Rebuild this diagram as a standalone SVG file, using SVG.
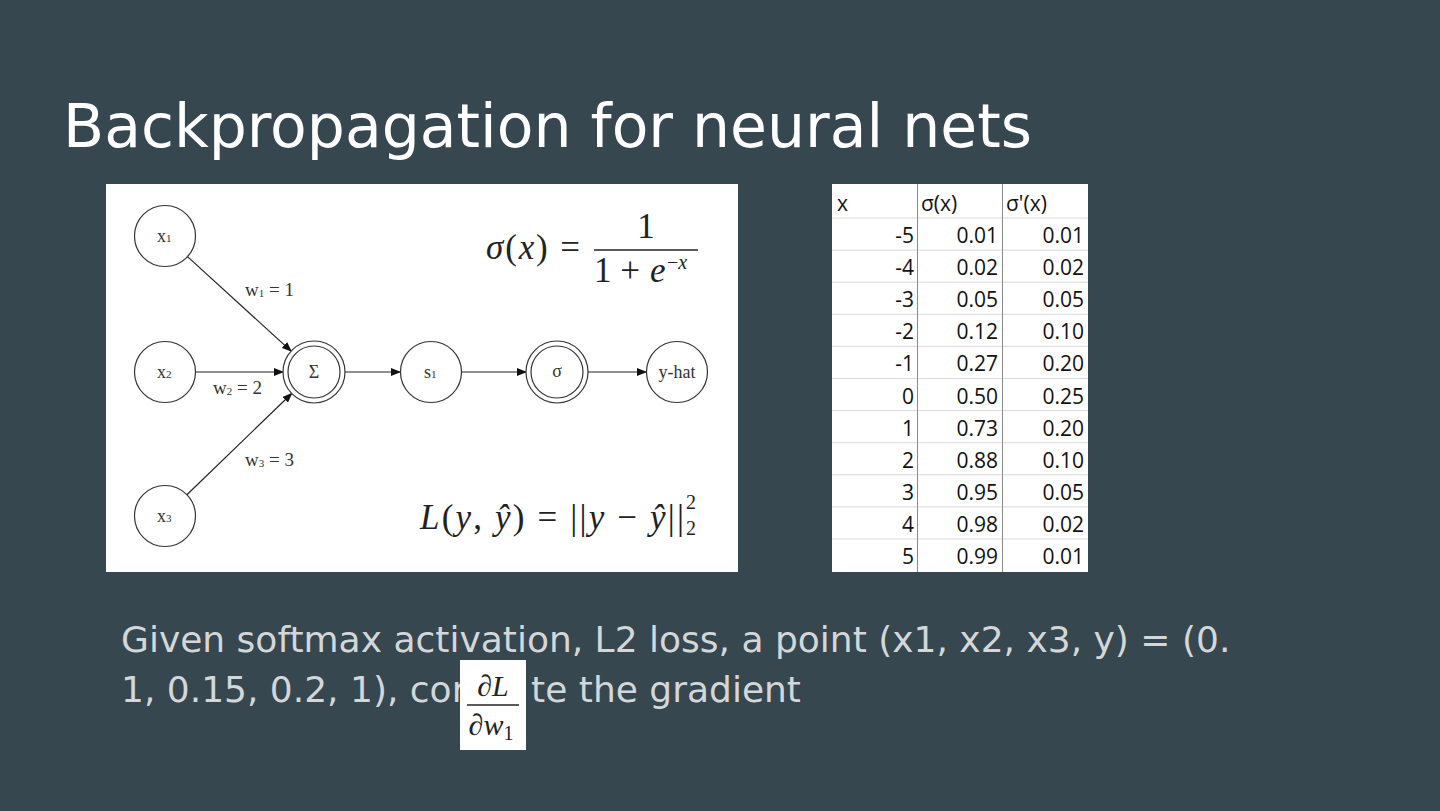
<svg xmlns="http://www.w3.org/2000/svg" width="1440" height="811" viewBox="0 0 1440 811">
<style>
.title{font-family:"DejaVu Sans",sans-serif;font-size:60px;fill:#ffffff}
.body{font-family:"DejaVu Sans",sans-serif;font-size:36px;fill:#d3d7d9}
.lbl{font-family:"Liberation Serif",serif;font-size:19px;fill:#333}
.nl{font-size:18px}
.big{font-size:18px}
.sub{font-size:11px}
.node{fill:#fff;stroke:#333;stroke-width:1.2}
.edge{stroke:#222;stroke-width:1.2;fill:none;marker-end:url(#arr)}
.math{font-family:"Liberation Serif",serif;font-size:35px;fill:#222}
.sm{font-size:20px}
.der{font-size:30px}
.it{font-style:italic}
.cell{font-family:"Open Sans","Liberation Sans",sans-serif;font-size:21px;fill:#111}
.num{text-anchor:end}
.hl{stroke:#dadada;stroke-width:1}
.vl{stroke:#8a8a8a;stroke-width:1}
</style>
<defs>
<marker id="arr" markerWidth="10" markerHeight="8" refX="9" refY="4" orient="auto" markerUnits="userSpaceOnUse">
<path d="M0,0 L10,4 L0,8 Z" fill="#111"/>
</marker>
</defs>
<rect width="1440" height="811" fill="#37474f"/>
<text class="title" x="63" y="147">Backpropagation for neural nets</text>

<!-- network picture -->
<rect x="106" y="184" width="632" height="388" fill="#fff"/>
<g id="connectors">
<line class="edge" x1="187.5" y1="256.6" x2="291.1" y2="351.1"/>
<line class="edge" x1="196" y1="372" x2="283" y2="372"/>
<line class="edge" x1="186.9" y1="494.8" x2="291.7" y2="393.5"/>
<line class="edge" x1="345" y1="372" x2="400" y2="372"/>
<line class="edge" x1="462" y1="372" x2="526" y2="372"/>
<line class="edge" x1="588" y1="372" x2="646" y2="372"/>
<text class="lbl" x="245" y="296">w<tspan class="sub" dy="1">1</tspan><tspan dy="-1"> = 1</tspan></text>
<text class="lbl" x="213" y="394">w<tspan class="sub" dy="1">2</tspan><tspan dy="-1"> = 2</tspan></text>
<text class="lbl" x="245" y="466">w<tspan class="sub" dy="1">3</tspan><tspan dy="-1"> = 3</tspan></text>
</g>
<g id="x1"><circle class="node" cx="165" cy="236" r="30.5"/><text class="lbl nl" x="157" y="242">x<tspan class="sub">1</tspan></text></g>
<g id="x2"><circle class="node" cx="165" cy="372" r="30.5"/><text class="lbl nl" x="157" y="378">x<tspan class="sub">2</tspan></text></g>
<g id="x3"><circle class="node" cx="165" cy="516" r="30.5"/><text class="lbl nl" x="157" y="522">x<tspan class="sub">3</tspan></text></g>
<g id="sum"><circle class="node" cx="314" cy="372" r="31"/><circle class="node" cx="314" cy="372" r="26"/><text class="lbl big" x="314" y="378" text-anchor="middle">Σ</text></g>
<g id="s1"><circle class="node" cx="431" cy="372" r="30.5"/><text class="lbl nl" x="424" y="378">s<tspan class="sub">1</tspan></text></g>
<g id="sigma"><circle class="node" cx="557" cy="372" r="31"/><circle class="node" cx="557" cy="372" r="26"/><text class="lbl big" x="557" y="377" text-anchor="middle">σ</text></g>
<g id="yhat"><circle class="node" cx="677" cy="372" r="30.5"/><text class="lbl big" x="677" y="378" text-anchor="middle">y-hat</text></g>

<g id="sigmoid-formula">
<text class="math" x="486" y="259" textLength="94" lengthAdjust="spacing"><tspan class="it">σ</tspan>(<tspan class="it">x</tspan>) =</text>
<text class="math" x="646" y="238" text-anchor="middle">1</text>
<line x1="594" y1="250" x2="698" y2="250" stroke="#222" stroke-width="1.5"/>
<text class="math" x="594" y="282">1 + </text>
<text class="math it" x="650" y="282">e</text>
<text class="math sm" x="667" y="269"><tspan>−</tspan><tspan class="it">x</tspan></text>
</g>
<g id="loss-formula">
<text class="math" x="420" y="529" textLength="264" lengthAdjust="spacing"><tspan class="it">L</tspan>(<tspan class="it">y</tspan>, <tspan class="it">ŷ</tspan>) = ||<tspan class="it">y</tspan> − <tspan class="it">ŷ</tspan>||</text>
<text class="math sm" x="686" y="509">2</text>
<text class="math sm" x="686" y="535">2</text>
</g>

<!-- table -->
<g id="table">
<rect x="832" y="184" width="256" height="388" fill="#fff"/>
<line class="hl" x1="832" y1="218" x2="1088" y2="218"/>
<line class="hl" x1="832" y1="250.1" x2="1088" y2="250.1"/>
<line class="hl" x1="832" y1="282.2" x2="1088" y2="282.2"/>
<line class="hl" x1="832" y1="314.3" x2="1088" y2="314.3"/>
<line class="hl" x1="832" y1="346.4" x2="1088" y2="346.4"/>
<line class="hl" x1="832" y1="378.5" x2="1088" y2="378.5"/>
<line class="hl" x1="832" y1="410.6" x2="1088" y2="410.6"/>
<line class="hl" x1="832" y1="442.7" x2="1088" y2="442.7"/>
<line class="hl" x1="832" y1="474.8" x2="1088" y2="474.8"/>
<line class="hl" x1="832" y1="506.9" x2="1088" y2="506.9"/>
<line class="hl" x1="832" y1="539" x2="1088" y2="539"/>
<line class="vl" x1="917.5" y1="184" x2="917.5" y2="572"/>
<line class="vl" x1="1002.5" y1="184" x2="1002.5" y2="572"/>
<text class="cell" x="837" y="211">x</text>
<text class="cell" x="921" y="211">σ(x)</text>
<text class="cell" x="1006" y="211">σ'(x)</text>
<g class="cell num">
<text x="914" y="243">-5</text><text x="998" y="243">0.01</text><text x="1084" y="243">0.01</text>
<text x="914" y="275.1">-4</text><text x="998" y="275.1">0.02</text><text x="1084" y="275.1">0.02</text>
<text x="914" y="307.2">-3</text><text x="998" y="307.2">0.05</text><text x="1084" y="307.2">0.05</text>
<text x="914" y="339.3">-2</text><text x="998" y="339.3">0.12</text><text x="1084" y="339.3">0.10</text>
<text x="914" y="371.4">-1</text><text x="998" y="371.4">0.27</text><text x="1084" y="371.4">0.20</text>
<text x="914" y="403.5">0</text><text x="998" y="403.5">0.50</text><text x="1084" y="403.5">0.25</text>
<text x="914" y="435.6">1</text><text x="998" y="435.6">0.73</text><text x="1084" y="435.6">0.20</text>
<text x="914" y="467.7">2</text><text x="998" y="467.7">0.88</text><text x="1084" y="467.7">0.10</text>
<text x="914" y="499.8">3</text><text x="998" y="499.8">0.95</text><text x="1084" y="499.8">0.05</text>
<text x="914" y="531.9">4</text><text x="998" y="531.9">0.98</text><text x="1084" y="531.9">0.02</text>
<text x="914" y="564">5</text><text x="998" y="564">0.99</text><text x="1084" y="564">0.01</text>
</g>
</g>

<!-- body text -->
<text class="body" x="121" y="652">Given softmax activation, L2 loss, a point (x1, x2, x3, y) = (0.</text>
<text class="body" x="121" y="702">1, 0.15, 0.2, 1), cor</text>
<text class="body" x="801" y="702" text-anchor="end">te the gradient</text>
<g id="derivative">
<rect x="460" y="660" width="66" height="90" fill="#fff"/>
<text class="math der" x="493" y="696" text-anchor="middle">∂<tspan class="it">L</tspan></text>
<line x1="467" y1="705" x2="519" y2="705" stroke="#222" stroke-width="1.3"/>
<text class="math der" x="491" y="735" text-anchor="middle">∂<tspan class="it">w</tspan><tspan class="sm" dy="5">1</tspan></text>
</g>
</svg>
